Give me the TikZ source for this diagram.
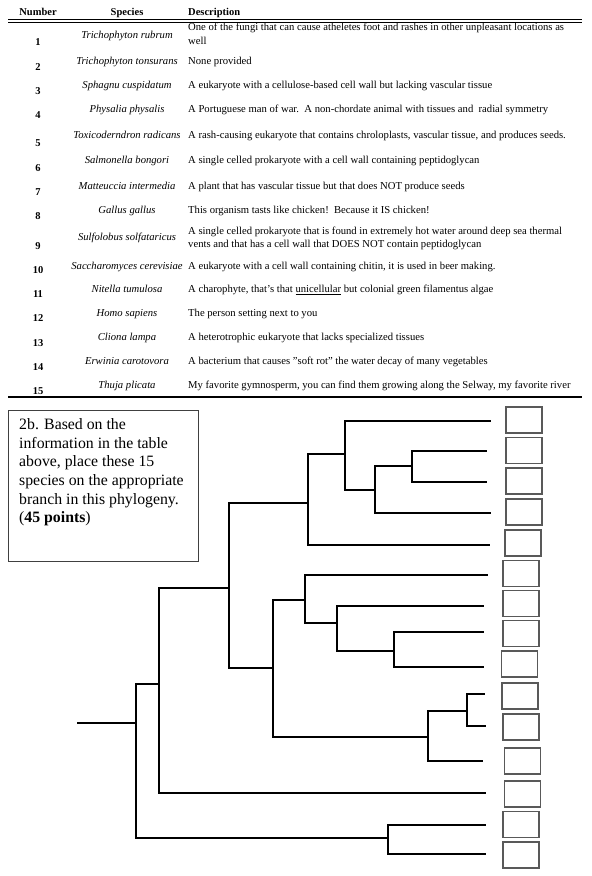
\documentclass[tikz,border=0pt]{standalone}
\usepackage{fontspec}
\setmainfont{Liberation Serif}
\begin{document}
\begin{tikzpicture}[x=1pt,y=-1pt,
  tfont/.style={inner sep=0pt, font=\fontsize{10.65}{13}\selectfont},
  hdr/.style={tfont, font=\fontsize{10.5}{13}\selectfont\bfseries, anchor=base},
  num/.style={tfont, font=\fontsize{10.5}{13}\selectfont\bfseries, anchor=base},
  spc/.style={tfont, font=\fontsize{10.65}{13}\selectfont\itshape, anchor=base},
  dsc/.style={tfont, anchor=base west},
  branch/.style={line width=2.7pt, line join=miter},
  ansbox/.style={draw=black!65, line width=1.1pt, minimum width=36pt, minimum height=26pt, inner sep=0pt},
  rulethick/.style={line width=1.6pt},
  rulethin/.style={line width=0.8pt}]
\useasboundingbox (0,0) rectangle (592,876);
\fill[white] (0,0) rectangle (592,876);

% ---------- table ----------
\node[hdr] (hnum) at (38,15.5) {Number};
\node[hdr] (hspc) at (127,15.5) {Species};
\node[hdr, anchor=base west] (hdsc) at (188,15.5) {Description};
\coordinate (rl1) at (8,19.3); \coordinate (rr1) at (582,19.3);
\coordinate (rl2) at (8,21.9); \coordinate (rr2) at (582,21.9);
\coordinate (rl3) at (8,397); \coordinate (rr3) at (582,397);
\draw[rulethick] (rl1) -- (rr1);
\draw[rulethin] (rl2) -- (rr2);
\draw[rulethick] (rl3) -- (rr3);

\node[num] (n1) at (38,45.5) {1};
\node[spc] (s1) at (127,38.5) {Trichophyton rubrum};
\node[dsc] (d1a) at (188,30.8) {One of the fungi that can cause atheletes foot and rashes in other unpleasant locations as};
\node[dsc] (d1b) at (188,44.5) {well};

\node[num] (n2) at (38,70.5) {2};
\node[spc] (s2) at (127,64.5) {Trichophyton tonsurans};
\node[dsc] (d2) at (188,64.5) {None provided};

\node[num] (n3) at (38,94.5) {3};
\node[spc] (s3) at (127,88.5) {Sphagnu cuspidatum};
\node[dsc] (d3) at (188,88.5) {A eukaryote with a cellulose-based cell wall but lacking vascular tissue};

\node[num] (n4) at (38,118.5) {4};
\node[spc] (s4) at (127,112.5) {Physalia physalis};
\node[dsc] (d4) at (188,112.5) {A Portuguese man of war.\ \ A non-chordate animal with tissues and\ \ radial symmetry};

\node[num] (n5) at (38,146.5) {5};
\node[spc] (s5) at (127,138.5) {Toxicoderndron radicans};
\node[dsc] (d5) at (188,138.5) {A rash-causing eukaryote that contains chroloplasts, vascular tissue, and produces seeds.};

\node[num] (n6) at (38,171.5) {6};
\node[spc] (s6) at (127,163.5) {Salmonella bongori};
\node[dsc] (d6) at (188,163.5) {A single celled prokaryote with a cell wall containing peptidoglycan};

\node[num] (n7) at (38,195.5) {7};
\node[spc] (s7) at (127,189.5) {Matteuccia intermedia};
\node[dsc] (d7) at (188,189.5) {A plant that has vascular tissue but that does NOT produce seeds};

\node[num] (n8) at (38,219.5) {8};
\node[spc] (s8) at (127,213.5) {Gallus gallus};
\node[dsc] (d8) at (188,213.5) {This organism tasts like chicken!\ \ Because it IS chicken!};

\node[num] (n9) at (38,249.5) {9};
\node[spc] (s9) at (127,240.5) {Sulfolobus solfataricus};
\node[dsc] (d9a) at (188,234.5) {A single celled prokaryote that is found in extremely hot water around deep sea thermal};
\node[dsc] (d9b) at (188,247.5) {vents and that has a cell wall that DOES NOT contain peptidoglycan};

\node[num] (n10) at (38,273.5) {10};
\node[spc] (s10) at (127,269.5) {Saccharomyces cerevisiae};
\node[dsc] (d10) at (188,269.5) {A eukaryote with a cell wall containing chitin, it is used in beer making.};

\node[num] (n11) at (38,297.5) {11};
\node[spc] (s11) at (127,292.5) {Nitella tumulosa};
\node[dsc] (d11) at (188,292.5) {A charophyte, that's that \underline{unicellular} but colonial green filamentus algae};

\node[num] (n12) at (38,321.5) {12};
\node[spc] (s12) at (127,316.5) {Homo sapiens};
\node[dsc] (d12) at (188,316.5) {The person setting next to you};

\node[num] (n13) at (38,346.5) {13};
\node[spc] (s13) at (127,340.5) {Cliona lampa};
\node[dsc] (d13) at (188,340.5) {A heterotrophic eukaryote that lacks specialized tissues};

\node[num] (n14) at (38,370.5) {14};
\node[spc] (s14) at (127,364.5) {Erwinia carotovora};
\node[dsc] (d14) at (188,364.5) {A bacterium that causes \char"0022 soft rot\char"0022{} the water decay of many vegetables};

\node[num] (n15) at (38,394) {15};
\node[spc] (s15) at (127,388.5) {Thuja plicata};
\node[dsc] (d15) at (188,388.5) {My favorite gymnosperm, you can find them growing along the Selway, my favorite river};

% ---------- question box ----------
\node[draw=black!75, line width=0.9pt, anchor=north west, minimum width=190pt, minimum height=151pt, inner sep=0pt] (qbox) at (8,410) {};
\node[anchor=north west, inner sep=0pt, align=left, font=\fontsize{15.8}{18.7}\selectfont] (qtext) at (19,418.2)
  {2b. Based on the\\information in the table\\above, place these 15\\species on the appropriate\\branch in this phylogeny.\\(\textbf{45 points})};

% ---------- tree ----------
\coordinate (S) at (77,723);
\coordinate (R) at (136,723);
\coordinate (N1) at (159,684);
\coordinate (N9) at (388,838);
\coordinate (N2) at (229,588);
\coordinate (N3) at (308,503);
\coordinate (N3a) at (345,454);
\coordinate (N3b) at (375,490);
\coordinate (N3c) at (412,466);
\coordinate (N5) at (273,668);
\coordinate (N6) at (305,600);
\coordinate (N7) at (337,623);
\coordinate (N7b) at (394,651);
\coordinate (N8) at (428,737);
\coordinate (N8b) at (467,711);
\coordinate (L1) at (491,421);
\coordinate (L2) at (487,451);
\coordinate (L3) at (487,482);
\coordinate (L4) at (491,513);
\coordinate (L5) at (490,545);
\coordinate (L6) at (488,575);
\coordinate (L7) at (484,606);
\coordinate (L8) at (484,632);
\coordinate (L9) at (484,667);
\coordinate (L10) at (485,694);
\coordinate (L11) at (486,726);
\coordinate (L12) at (483,761);
\coordinate (L13) at (486,793);
\coordinate (L14) at (486,825);
\coordinate (L15) at (486,854);

\draw[branch] (S) -- (R);
\draw[branch] (R) |- (N1);
\draw[branch] (R) |- (N9);
\draw[branch] (N1) |- (N2);
\draw[branch] (N1) |- (L13);
\draw[branch] (N9) |- (L14);
\draw[branch] (N9) |- (L15);
\draw[branch] (N2) |- (N3);
\draw[branch] (N2) |- (N5);
\draw[branch] (N3) |- (N3a);
\draw[branch] (N3) |- (L5);
\draw[branch] (N3a) |- (L1);
\draw[branch] (N3a) |- (N3b);
\draw[branch] (N3b) |- (N3c);
\draw[branch] (N3b) |- (L4);
\draw[branch] (N3c) |- (L2);
\draw[branch] (N3c) |- (L3);
\draw[branch] (N5) |- (N6);
\draw[branch] (N5) |- (N8);
\draw[branch] (N6) |- (L6);
\draw[branch] (N6) |- (N7);
\draw[branch] (N7) |- (L7);
\draw[branch] (N7) |- (N7b);
\draw[branch] (N7b) |- (L8);
\draw[branch] (N7b) |- (L9);
\draw[branch] (N8) |- (N8b);
\draw[branch] (N8) |- (L12);
\draw[branch] (N8b) |- (L10);
\draw[branch] (N8b) |- (L11);

% ---------- answer boxes ----------
\node[ansbox] (b1) at (524,420) {};
\node[ansbox] (b2) at (524,450.5) {};
\node[ansbox] (b3) at (524,481) {};
\node[ansbox] (b4) at (524,512) {};
\node[ansbox] (b5) at (523,543) {};
\node[ansbox] (b6) at (521,573.5) {};
\node[ansbox] (b7) at (521,603.5) {};
\node[ansbox] (b8) at (521,633.5) {};
\node[ansbox] (b9) at (519.5,664) {};
\node[ansbox] (b10) at (520,696) {};
\node[ansbox] (b11) at (521,727) {};
\node[ansbox] (b12) at (522.5,761) {};
\node[ansbox] (b13) at (522.5,794) {};
\node[ansbox] (b14) at (521,824.5) {};
\node[ansbox] (b15) at (521,855) {};
\end{tikzpicture}
\end{document}
